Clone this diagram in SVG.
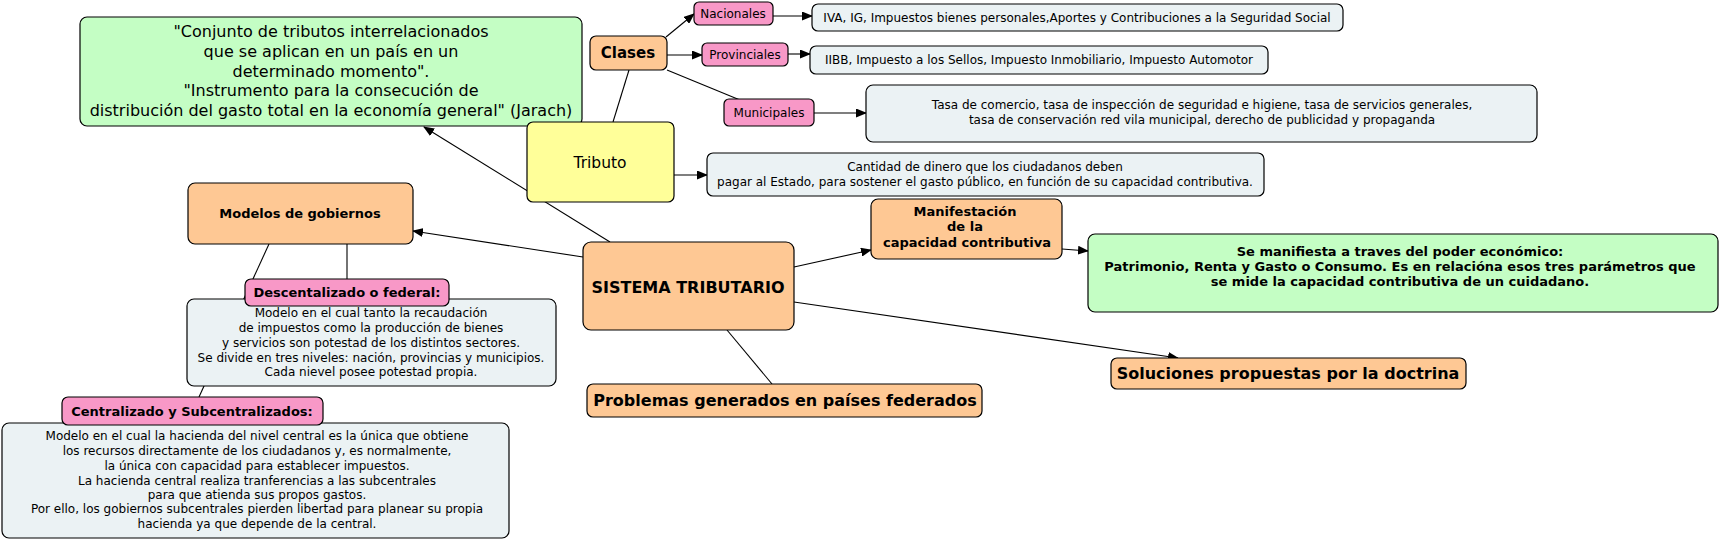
<svg xmlns="http://www.w3.org/2000/svg" width="1721" height="541" viewBox="0 0 1721 541">
<style>
text{font-family:"DejaVu Sans","Liberation Sans",sans-serif;fill:#000;text-anchor:middle}
.n{stroke:#000;stroke-width:1.2}
.or{fill:#FEC894}.pk{fill:#F898C7}.gr{fill:#C4FEC4}.bl{fill:#EBF2F4}.ye{fill:#FFFF99}
.c{stroke:#000;stroke-width:1.1;fill:none}
.a{marker-end:url(#ah)}
.s12{font-size:12px}.s16{font-size:16px}
.b13{font-size:13px;font-weight:bold}.b15{font-size:15px;font-weight:bold}.b16{font-size:16px;font-weight:bold}
</style>
<defs>
<marker id="ah" markerUnits="userSpaceOnUse" markerWidth="11" markerHeight="9" refX="10" refY="4.5" orient="auto">
<path d="M0,0 L11,4.5 L0,9 z" fill="#000"/>
</marker>
</defs>
<rect width="1721" height="541" fill="#fff"/>
<g id="connectors">
<line class="c a" x1="610" y1="242" x2="424" y2="127"/>
<line class="c" x1="613" y1="122" x2="629" y2="70"/>
<line class="c a" x1="666" y1="37" x2="694" y2="14"/>
<line class="c a" x1="667" y1="55" x2="702" y2="55"/>
<line class="c" x1="667" y1="70" x2="740" y2="100"/>
<line class="c a" x1="773" y1="16" x2="812" y2="16"/>
<line class="c a" x1="788" y1="54" x2="810" y2="54"/>
<line class="c a" x1="814" y1="113" x2="866" y2="113"/>
<line class="c a" x1="674" y1="175" x2="707" y2="175"/>
<line class="c a" x1="583" y1="257" x2="413" y2="231"/>
<line class="c a" x1="794" y1="267" x2="871" y2="250"/>
<line class="c a" x1="1062" y1="249" x2="1088" y2="251"/>
<line class="c a" x1="794" y1="302" x2="1178" y2="358"/>
<line class="c" x1="727" y1="330" x2="772" y2="384"/>
<line class="c" x1="347" y1="244" x2="347" y2="279"/>
<line class="c" x1="269" y1="244" x2="199" y2="397"/>
</g>
<g id="definicion">
<rect class="n gr" x="80" y="17" width="502" height="109" rx="7"/>
<text class="s16" x="331" y="37">"Conjunto de tributos interrelacionados</text>
<text class="s16" x="331" y="57">que se aplican en un país en un</text>
<text class="s16" x="331" y="77">determinado momento".</text>
<text class="s16" x="331" y="96">"Instrumento para la consecución de</text>
<text class="s16" x="331" y="116">distribución del gasto total en la economía general" (Jarach)</text>
</g>
<g id="clases">
<rect class="n or" x="590" y="36" width="77" height="34" rx="6"/>
<text class="b15" x="628" y="58">Clases</text>
</g>
<g id="nacionales">
<rect class="n pk" x="694" y="2" width="79" height="23" rx="5"/>
<text class="s12" x="733" y="18">Nacionales</text>
</g>
<g id="provinciales">
<rect class="n pk" x="702" y="43" width="86" height="23" rx="5"/>
<text class="s12" x="745" y="59">Provinciales</text>
</g>
<g id="municipales">
<rect class="n pk" x="724" y="99" width="90" height="27" rx="5"/>
<text class="s12" x="769" y="117">Municipales</text>
</g>
<g id="nacionales-desc">
<rect class="n bl" x="812" y="4" width="531" height="27" rx="6"/>
<text class="s12" x="1077" y="22">IVA, IG, Impuestos bienes personales,Aportes y Contribuciones a la Seguridad Social</text>
</g>
<g id="provinciales-desc">
<rect class="n bl" x="810" y="46" width="458" height="28" rx="6"/>
<text class="s12" x="1039" y="64">IIBB, Impuesto a los Sellos, Impuesto Inmobiliario, Impuesto Automotor</text>
</g>
<g id="municipales-desc">
<rect class="n bl" x="866" y="85" width="671" height="57" rx="7"/>
<text class="s12" x="1202" y="109">Tasa de comercio, tasa de inspección de seguridad e higiene, tasa de servicios generales,</text>
<text class="s12" x="1202" y="124">tasa de conservación red vila municipal, derecho de publicidad y propaganda</text>
</g>
<g id="tributo">
<rect class="n ye" x="527" y="122" width="147" height="80" rx="6"/>
<text x="600" y="168" style="font-size:15.5px">Tributo</text>
</g>
<g id="tributo-desc">
<rect class="n bl" x="707" y="153" width="557" height="43" rx="6"/>
<text class="s12" x="985" y="171">Cantidad de dinero que los ciudadanos deben</text>
<text class="s12" x="985" y="186">pagar al Estado, para sostener el gasto público, en función de su capacidad contributiva.</text>
</g>
<g id="modelos">
<rect class="n or" x="188" y="183" width="225" height="61" rx="7"/>
<text class="b13" x="300" y="218">Modelos de gobiernos</text>
</g>
<g id="sistema">
<rect class="n or" x="583" y="242" width="211" height="88" rx="8"/>
<text class="b16" x="688" y="293">SISTEMA TRIBUTARIO</text>
</g>
<g id="manifestacion">
<rect class="n or" x="871" y="199" width="191" height="60" rx="7"/>
<text class="b13" x="965" y="216">Manifestación</text>
<text class="b13" x="965" y="231">de la</text>
<text class="b13" x="967" y="247">capacidad contributiva</text>
</g>
<g id="manifestacion-desc">
<rect class="n gr" x="1088" y="234" width="630" height="78" rx="7"/>
<text class="b13" x="1400" y="256">Se manifiesta a traves del poder económico:</text>
<text class="b13" x="1400" y="271">Patrimonio, Renta y Gasto o Consumo. Es en relacióna esos tres parámetros que</text>
<text class="b13" x="1400" y="286">se mide la capacidad contributiva de un cuidadano.</text>
</g>
<g id="soluciones">
<rect class="n or" x="1111" y="358" width="355" height="31" rx="6"/>
<text class="b16" x="1288" y="379">Soluciones propuestas por la doctrina</text>
</g>
<g id="problemas">
<rect class="n or" x="587" y="384" width="395" height="33" rx="6"/>
<text class="b16" x="785" y="406">Problemas generados en países federados</text>
</g>
<g id="descentralizado-desc">
<rect class="n bl" x="187" y="299" width="369" height="87" rx="7"/>
<text class="s12" x="371" y="317">Modelo en el cual tanto la recaudación</text>
<text class="s12" x="371" y="332">de impuestos como la producción de bienes</text>
<text class="s12" x="371" y="347">y servicios son potestad de los distintos sectores.</text>
<text class="s12" x="371" y="362">Se divide en tres niveles: nación, provincias y municipios.</text>
<text class="s12" x="371" y="376">Cada nievel posee potestad propia.</text>
</g>
<g id="descentralizado">
<rect class="n pk" x="245" y="279" width="204" height="27" rx="6"/>
<text class="b13" x="347" y="297">Descentalizado o federal:</text>
</g>
<g id="centralizado-desc">
<rect class="n bl" x="2" y="423" width="507" height="115" rx="7"/>
<text class="s12" x="257" y="440">Modelo en el cual la hacienda del nivel central es la única que obtiene</text>
<text class="s12" x="257" y="455">los recursos directamente de los ciudadanos y, es normalmente,</text>
<text class="s12" x="257" y="470">la única con capacidad para establecer impuestos.</text>
<text class="s12" x="257" y="485">La hacienda central realiza tranferencias a las subcentrales</text>
<text class="s12" x="257" y="499">para que atienda sus propos gastos.</text>
<text class="s12" x="257" y="513">Por ello, los gobiernos subcentrales pierden libertad para planear su propia</text>
<text class="s12" x="257" y="528">hacienda ya que depende de la central.</text>
</g>
<g id="centralizado">
<rect class="n pk" x="62" y="397" width="261" height="28" rx="6"/>
<text class="b13" x="192" y="416">Centralizado y Subcentralizados:</text>
</g>
</svg>
